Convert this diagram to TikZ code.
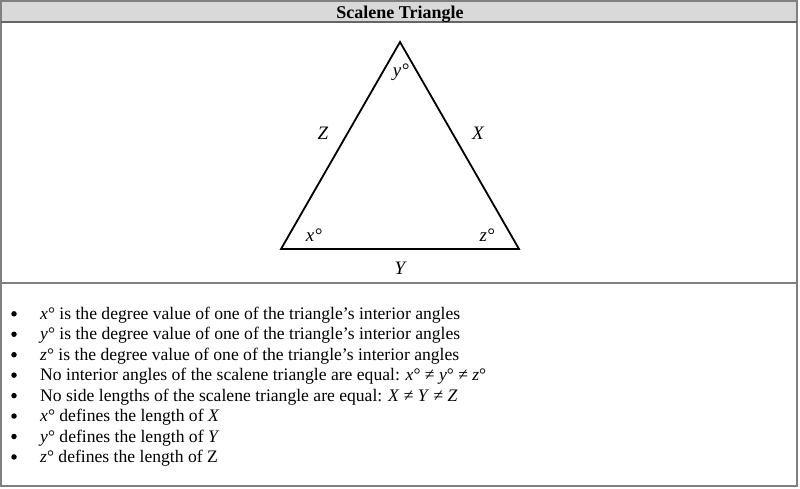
\documentclass[tikz,border=0pt]{standalone}
\usepackage{fontspec}
\setmainfont{Liberation Serif}
\begin{document}
\begin{tikzpicture}[x=1pt,y=-1pt,
  frame/.style={draw=black!50,line width=1.5pt},
  tri/.style={draw=black,line width=1.8pt,line join=miter},
  lbl/.style={font=\fontsize{19}{22}\selectfont\itshape,inner sep=0pt},
  item/.style={font=\fontsize{17.6}{20}\selectfont,anchor=base west,inner sep=0pt},
  dot/.style={circle,fill=black,inner sep=0pt,minimum size=5.5pt}]
\useasboundingbox (0,0) rectangle (800,488);
% table
\fill[black!15] (1,1) rectangle (797,22);
\draw[frame] (1,1) rectangle (797,486);
\draw[draw=black!60,line width=1.5pt] (1,22) -- (797,22);
\draw[draw=black!50,line width=1.2pt] (1,283) -- (797,283);
\node[font=\fontsize{18}{20}\selectfont\bfseries,inner sep=0pt,anchor=base] (title) at (400,18) {Scalene Triangle};
% triangle
\coordinate (A) at (400,42);
\coordinate (B) at (281,249);
\coordinate (C) at (519,249);
\draw[tri] (A) -- (B) -- (C) -- cycle;
\node[lbl] (ly) at (401,72) {y°};
\node[lbl] (lZ) at (323,133) {Z};
\node[lbl] (lX) at (478,133) {X};
\node[lbl] (lx) at (314,235) {x°};
\node[lbl] (lz) at (487,235) {z°};
\node[lbl] (lY) at (400,268) {Y};
% bullets
\foreach \i/\t in {
 1/{\textit{x}° is the degree value of one of the triangle’s interior angles},
 2/{\textit{y}° is the degree value of one of the triangle’s interior angles},
 3/{\textit{z}° is the degree value of one of the triangle’s interior angles},
 4/{No interior angles of the scalene triangle are equal: \textit{x}° ≠ \textit{y}° ≠ \textit{z}°},
 5/{No side lengths of the scalene triangle are equal: \textit{X} ≠ \textit{Y} ≠ \textit{Z}},
 6/{\textit{x}° defines the length of \textit{X}},
 7/{\textit{y}° defines the length of \textit{Y}},
 8/{\textit{z}° defines the length of Z}}{
  \node[dot] (b\i) at (14,{313.8+20.45*(\i-1)}) {};
  \node[item] (t\i) at (40,{319.5+20.45*(\i-1)}) {\t};
}
\end{tikzpicture}
\end{document}
